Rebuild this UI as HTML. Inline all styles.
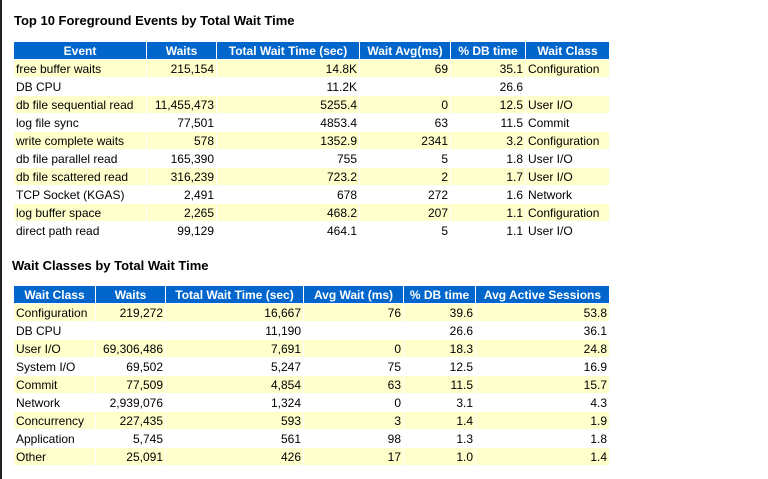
<!DOCTYPE html>
<html><head><meta charset="utf-8"><style>
body{margin:0;width:768px;height:479px;background:#fff;position:relative;overflow:hidden;font-family:"Liberation Sans",Arial,sans-serif;}
.edge{position:absolute;left:0;top:0;width:2px;height:479px;background:#222;}
h3{position:absolute;margin:0;font-size:13px;font-weight:bold;color:#000;}
table{position:absolute;border-collapse:separate;border-spacing:1px;table-layout:fixed;font-size:12px;left:13px;}
th{background:#0066cc;color:#fff;font-weight:bold;height:17px;padding:0 2px;text-align:center;white-space:nowrap;}
td{height:17px;padding:0 2px;white-space:nowrap;color:#000;}
tr.y td{background:#ffffcc;}
.r{text-align:right;}
</style></head><body>
<div class="edge"></div>
<h3 style="left:14px;top:13px">Top 10 Foreground Events by Total Wait Time</h3>
<table style="top:41px;width:597px">
<colgroup><col style="width:132px"><col style="width:69px"><col style="width:142px"><col style="width:90px"><col style="width:74px"><col style="width:83px"></colgroup>
<tr><th>Event</th><th>Waits</th><th>Total Wait Time (sec)</th><th>Wait Avg(ms)</th><th>% DB time</th><th>Wait Class</th></tr>
<tr class="y"><td>free buffer waits</td><td class="r">215,154</td><td class="r">14.8K</td><td class="r">69</td><td class="r">35.1</td><td>Configuration</td></tr>
<tr><td>DB CPU</td><td></td><td class="r">11.2K</td><td></td><td class="r">26.6</td><td></td></tr>
<tr class="y"><td>db file sequential read</td><td class="r">11,455,473</td><td class="r">5255.4</td><td class="r">0</td><td class="r">12.5</td><td>User I/O</td></tr>
<tr><td>log file sync</td><td class="r">77,501</td><td class="r">4853.4</td><td class="r">63</td><td class="r">11.5</td><td>Commit</td></tr>
<tr class="y"><td>write complete waits</td><td class="r">578</td><td class="r">1352.9</td><td class="r">2341</td><td class="r">3.2</td><td>Configuration</td></tr>
<tr><td>db file parallel read</td><td class="r">165,390</td><td class="r">755</td><td class="r">5</td><td class="r">1.8</td><td>User I/O</td></tr>
<tr class="y"><td>db file scattered read</td><td class="r">316,239</td><td class="r">723.2</td><td class="r">2</td><td class="r">1.7</td><td>User I/O</td></tr>
<tr><td>TCP Socket (KGAS)</td><td class="r">2,491</td><td class="r">678</td><td class="r">272</td><td class="r">1.6</td><td>Network</td></tr>
<tr class="y"><td>log buffer space</td><td class="r">2,265</td><td class="r">468.2</td><td class="r">207</td><td class="r">1.1</td><td>Configuration</td></tr>
<tr><td>direct path read</td><td class="r">99,129</td><td class="r">464.1</td><td class="r">5</td><td class="r">1.1</td><td>User I/O</td></tr>
</table>
<h3 style="left:12px;top:258px">Wait Classes by Total Wait Time</h3>
<table style="top:285px;width:597px">
<colgroup><col style="width:81px"><col style="width:69px"><col style="width:137px"><col style="width:99px"><col style="width:71px"><col style="width:133px"></colgroup>
<tr><th>Wait Class</th><th>Waits</th><th>Total Wait Time (sec)</th><th>Avg Wait (ms)</th><th>% DB time</th><th>Avg Active Sessions</th></tr>
<tr class="y"><td>Configuration</td><td class="r">219,272</td><td class="r">16,667</td><td class="r">76</td><td class="r">39.6</td><td class="r">53.8</td></tr>
<tr><td>DB CPU</td><td></td><td class="r">11,190</td><td></td><td class="r">26.6</td><td class="r">36.1</td></tr>
<tr class="y"><td>User I/O</td><td class="r">69,306,486</td><td class="r">7,691</td><td class="r">0</td><td class="r">18.3</td><td class="r">24.8</td></tr>
<tr><td>System I/O</td><td class="r">69,502</td><td class="r">5,247</td><td class="r">75</td><td class="r">12.5</td><td class="r">16.9</td></tr>
<tr class="y"><td>Commit</td><td class="r">77,509</td><td class="r">4,854</td><td class="r">63</td><td class="r">11.5</td><td class="r">15.7</td></tr>
<tr><td>Network</td><td class="r">2,939,076</td><td class="r">1,324</td><td class="r">0</td><td class="r">3.1</td><td class="r">4.3</td></tr>
<tr class="y"><td>Concurrency</td><td class="r">227,435</td><td class="r">593</td><td class="r">3</td><td class="r">1.4</td><td class="r">1.9</td></tr>
<tr><td>Application</td><td class="r">5,745</td><td class="r">561</td><td class="r">98</td><td class="r">1.3</td><td class="r">1.8</td></tr>
<tr class="y"><td>Other</td><td class="r">25,091</td><td class="r">426</td><td class="r">17</td><td class="r">1.0</td><td class="r">1.4</td></tr>
</table>
</body></html>
